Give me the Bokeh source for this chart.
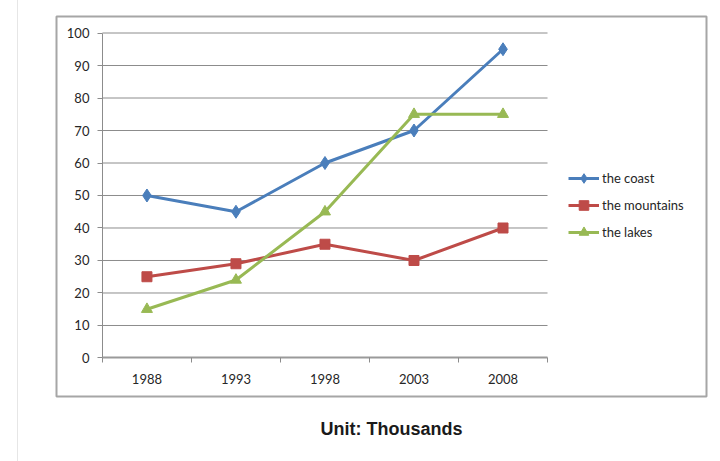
from bokeh.plotting import figure
from bokeh.layouts import row
from bokeh.models import Range1d, FixedTicker, Legend, LegendItem, Title, Div
from bokeh.embed import file_html
from bokeh.resources import INLINE

# data
years = [1988, 1993, 1998, 2003, 2008]
coast = [50, 45, 60, 70, 95]
mountains = [25, 29, 35, 30, 40]
lakes = [15, 24, 45, 75, 75]
y_ticks = [0, 10, 20, 30, 40, 50, 60, 70, 80, 90, 100]
series_names = ["the coast", "the mountains", "the lakes"]
unit_text = "Unit: Thousands"

# category edges, half a step either side of each year
edges = [y - 2.5 for y in years] + [years[-1] + 2.5]

FONT = "Lato"
TEXT = "#262626"
BLUE = "#4a7ebb"
RED = "#be4b48"
GREEN = "#98b954"

# the frame is the whole chart box; the plot area sits inside it
p = figure(width=694, height=461, output_backend="svg", toolbar_location=None,
           x_range=Range1d(1982.92, 2019.43), y_range=Range1d(-11.85, 105.08),
           min_border_left=38, min_border_right=6, min_border_top=16, min_border_bottom=65)
p.outline_line_color = "#a6a6a6"
p.outline_line_width = 2
p.xgrid.visible = False
p.ygrid.visible = False

# horizontal gridlines over the plot area only
grid_y = y_ticks[1:]
p.segment(x0=[edges[0]] * len(grid_y), x1=[edges[-1]] * len(grid_y),
          y0=grid_y, y1=grid_y, line_color="#8c8c8c", line_width=1)

xa = p.xaxis[0]
xa.fixed_location = 0
xa.bounds = (edges[0], edges[-1])
xa.ticker = FixedTicker(ticks=years, minor_ticks=edges)
xa.major_tick_out = 0
xa.major_tick_in = 0
xa.minor_tick_out = 5
xa.minor_tick_in = 0
xa.minor_tick_line_color = "#8c8c8c"
xa.axis_line_color = "#9a9a9a"
xa.axis_line_width = 2
xa.major_label_standoff = 11
xa.major_label_text_font = FONT
xa.major_label_text_font_size = "13px"
xa.major_label_text_color = TEXT

ya = p.yaxis[0]
ya.fixed_location = edges[0]
ya.bounds = (0, 100)
ya.ticker = FixedTicker(ticks=y_ticks)
ya.major_tick_out = 5
ya.major_tick_in = 0
ya.minor_tick_out = 0
ya.major_tick_line_color = "#8c8c8c"
ya.axis_line_color = "#8c8c8c"
ya.major_label_standoff = 8
ya.major_label_text_font = FONT
ya.major_label_text_font_size = "13px"
ya.major_label_text_color = TEXT

items = []
for name, vals, color, marker, size in zip(series_names, [coast, mountains, lakes],
                                           [BLUE, RED, GREEN],
                                           ["diamond", "square", "triangle"],
                                           [13, 10, 11]):
    ln = p.line(years, vals, line_color=color, line_width=3)
    mk = p.scatter(years, vals, marker=marker, size=size, color=color)
    items.append(LegendItem(label=name, renderers=[ln, mk]))

legend = Legend(items=items, location=(512, 152), padding=0, margin=0, spacing=3,
                glyph_width=31, glyph_height=24, label_height=24, label_standoff=3,
                border_line_alpha=0, background_fill_alpha=0,
                label_text_font=FONT, label_text_font_size="13px", label_text_color=TEXT)
p.add_layout(legend)

# caption under the chart box
p.add_layout(Title(text=unit_text, align="left", offset=264, standoff=40,
                   text_font="Liberation Sans", text_font_style="bold",
                   text_font_size="18px", text_color="#1a1a1a"), "below")

# faint page rule on the far left
rule = Div(width=18, height=461, margin=0, styles={"border-right": "1px solid #e6e6e6"})

open("out.html", "w").write(file_html(row(rule, p), INLINE))
